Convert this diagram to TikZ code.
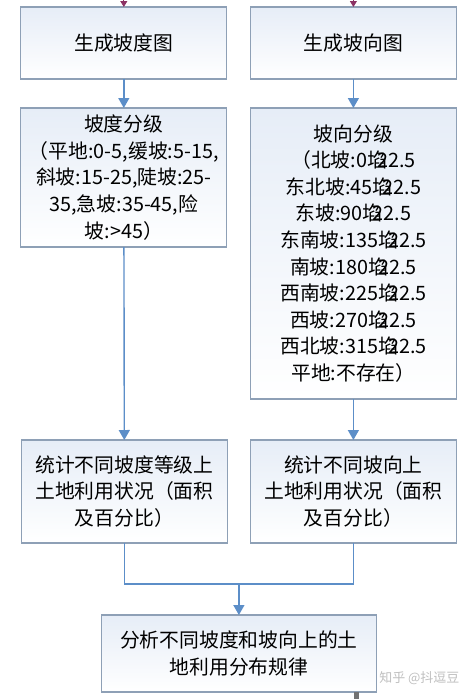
\documentclass[tikz,border=0pt]{standalone}
\usepackage{fontspec}
\setmainfont{Noto Sans CJK SC}
\usetikzlibrary{positioning,arrows.meta,calc}
\definecolor{boxline}{RGB}{142,160,182}
\definecolor{boxtop}{RGB}{230,237,247}
\definecolor{flow}{RGB}{92,142,200}
\definecolor{inflow}{RGB}{140,50,100}
\newcommand\pmgarb{埳\kern-0.5em}

\begin{document}
\begin{tikzpicture}[x=1pt,y=1pt,node distance=29pt,
        box/.style={draw=boxline,line width=1.1pt,top color=boxtop,bottom color=white,
          minimum width=206pt,align=center,inner sep=0pt,outer sep=0pt,
          font={\fontsize{19.8pt}{26.6pt}\selectfont}},
        flowline/.style={draw=flow,line width=1.4pt},
        flowarrow/.style={flowline,-{Triangle[width=11pt,length=10pt]}}]
        \useasboundingbox (0,0) rectangle (474,-699);
        \coordinate (top) at (0,0);

        \node[box,minimum height=72pt]  (slope)  at (123.8,-43) {生成坡度图};
        \node[box,minimum height=72pt]  (aspect) at (353.4,-43) {生成坡向图};
        \node[box,minimum height=139pt] (slopeclass) [below=of slope]
          {坡度分级\\（平地:0-5,缓坡:5-15,\\斜坡:15-25,陡坡:25-\\35,急坡:35-45,险\\坡:>45）};
        \node[box,minimum height=291pt] (aspectclass) [below=of aspect]
          {坡向分级\\（北坡:0\pmgarb22.5\\东北坡:45\pmgarb22.5\\东坡:90\pmgarb22.5\\
           东南坡:135\pmgarb22.5\\南坡:180\pmgarb22.5\\西南坡:225\pmgarb22.5\\
           西坡:270\pmgarb22.5\\西北坡:315\pmgarb22.5\\平地:不存在）};
        \node[box,minimum height=103pt] (aspectstat) [below=41pt of aspectclass]
          {统计不同坡向上\\土地利用状况（面积\\及百分比）};
        \node[box,minimum height=103pt] (slopestat) [left=23pt of aspectstat]
          {统计不同坡度等级上\\土地利用状况（面积\\及百分比）};
        \coordinate (join) at ($(slopestat.south)!0.5!(aspectstat.south)+(0,-41)$);
        \node[box,minimum width=275pt,minimum height=77pt] (analysis) [below=31pt of join]
          {分析不同坡度和坡向上的土\\地利用分布规律};

        % incoming arrows from above
        \draw[inflow,line width=1pt,-{Triangle[width=7pt,length=6pt]}]
          (slope.north |- top) -- (slope.north);
        \draw[inflow,line width=1pt,-{Triangle[width=7pt,length=6pt]}]
          (aspect.north |- top) -- (aspect.north);

        \draw[flowarrow] (slope) -- (slopeclass);
        \draw[flowarrow] (aspect) -- (aspectclass);
        \draw[flowarrow] (slopeclass) -- (slopestat);
        \draw[flowarrow] (aspectclass) -- (aspectstat);
        \draw[flowline] (slopestat.south) |- (join) -| (aspectstat.south);
        \draw[flowarrow] (join) -- (analysis);

        \node[text=black!25,font={\fontsize{13pt}{15pt}\selectfont},anchor=east] (mark)
          at (463,-678) {知乎 @抖逗豆};
        \fill[black!55] (354,-692) rectangle (359,-699);
\end{tikzpicture}
\end{document}
